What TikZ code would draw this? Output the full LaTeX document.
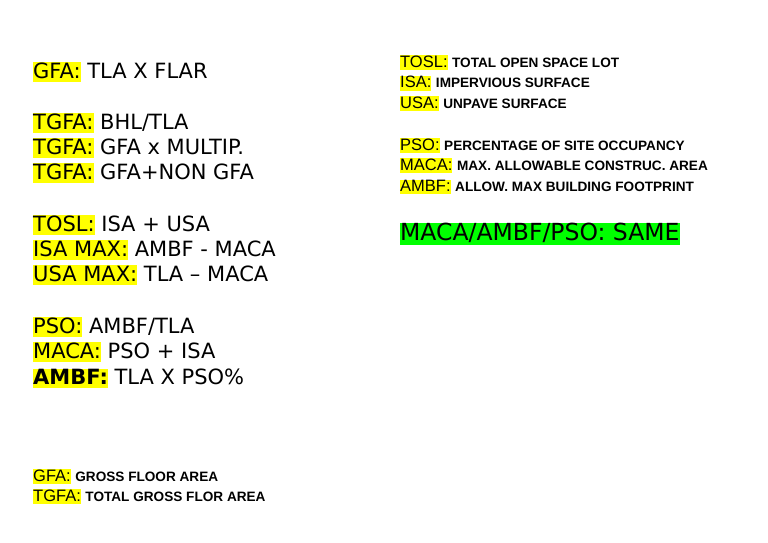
\documentclass[tikz,border=0pt]{standalone}
\usepackage{fontspec}
\setmainfont{DejaVu Sans}
\newfontfamily\lib{Liberation Sans}
\definecolor{hly}{RGB}{255,255,0}
\definecolor{hlg}{RGB}{0,255,0}
\newcommand\hlb[2]{{\setlength\fboxsep{0pt}\colorbox{#1}{\vphantom{Ag}#2}}}
\newcommand\hl[1]{\hlb{hly}{#1}}
\newcommand\smbold[1]{{\lib\bfseries\fontsize{13.6}{15}\selectfont #1}}
\begin{document}
\begin{tikzpicture}[x=1pt,y=1pt,
  big/.style={anchor=base west,inner sep=0pt,font=\fontsize{21}{24}\selectfont},
  sm/.style={anchor=base west,inner sep=0pt,font=\lib\fontsize{16.5}{18}\selectfont}]
\useasboundingbox (0,0) rectangle (768,-543);
\node[big] (l1) at (33,-78) {\hl{GFA:} TLA X FLAR};
\node[big] (l2) at (33,-129) {\hl{TGFA:} BHL/TLA};
\node[big] (l3) at (33,-154) {\hl{TGFA:} GFA x MULTIP.};
\node[big] (l4) at (33,-179) {\hl{TGFA:} GFA+NON GFA};
\node[big] (l5) at (33,-231) {\hl{TOSL:} ISA + USA};
\node[big] (l6) at (33,-256) {\hl{ISA MAX:} AMBF - MACA};
\node[big] (l7) at (33,-281) {\hl{USA MAX:} TLA – MACA};
\node[big] (l8) at (33,-333) {\hl{PSO:} AMBF/TLA};
\node[big] (l9) at (33,-358) {\hl{MACA:} PSO + ISA};
\node[big] (l10) at (33,-384) {\hl{\bfseries AMBF:} TLA X PSO\%};
\node[sm] (b1) at (33,-481) {\hl{GFA:} \smbold{GROSS FLOOR AREA}};
\node[sm] (b2) at (33,-501) {\hl{TGFA:} \smbold{TOTAL GROSS FLOR AREA}};
\node[sm] (r1) at (400,-67) {\hl{TOSL:} \smbold{TOTAL OPEN SPACE LOT}};
\node[sm] (r2) at (400,-88) {\hl{ISA:} \smbold{IMPERVIOUS SURFACE}};
\node[sm] (r3) at (400,-108) {\hl{USA:} \smbold{UNPAVE SURFACE}};
\node[sm] (r4) at (400,-150) {\hl{PSO:} \smbold{PERCENTAGE OF SITE OCCUPANCY}};
\node[sm] (r5) at (400,-170) {\hl{MACA:} \smbold{MAX. ALLOWABLE CONSTRUC. AREA}};
\node[sm] (r6) at (400,-191) {\hl{AMBF:} \smbold{ALLOW. MAX BUILDING FOOTPRINT}};
\node[big,font=\fontsize{23.5}{26}\selectfont] (r7) at (400,-240) {\hlb{hlg}{MACA/AMBF/PSO: SAME}};
\end{tikzpicture}
\end{document}
